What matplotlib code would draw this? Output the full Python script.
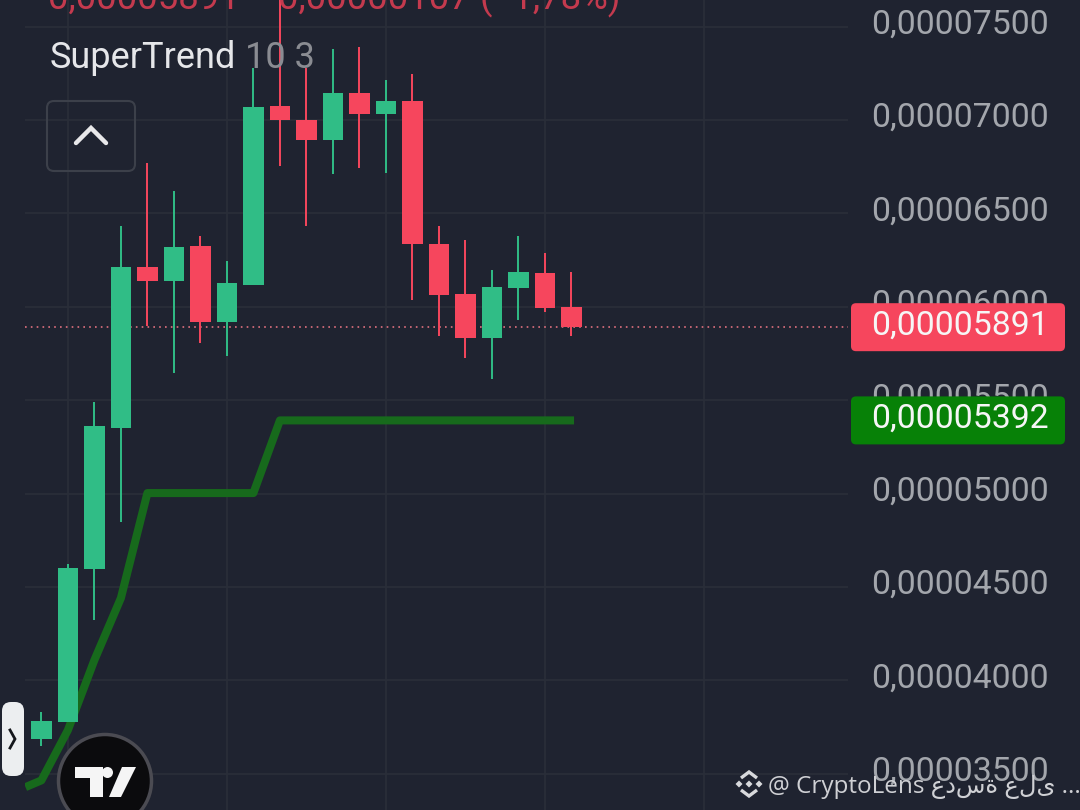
import matplotlib
matplotlib.use("Agg")
import matplotlib.pyplot as plt
from matplotlib.patches import FancyBboxPatch, Circle, Polygon
from matplotlib.transforms import ScaledTranslation

# ---- data (prices in units of 1e-8) ----
opens  = [3686, 3777, 4596, 5351, 6213, 6138, 6326, 5919, 6117, 7075, 7000, 6893, 7144, 7032, 7102, 6336, 6069, 5833, 6100, 6181, 5999]
highs  = [3831, 4623, 5490, 6433, 6770, 6620, 6379, 6245, 7278, 7660, 7278, 7380, 7391, 7214, 7246, 6433, 6358, 6197, 6379, 6288, 6186]
lows   = [3649, 3777, 4323, 4848, 5897, 5646, 5806, 5737, 6117, 6754, 6433, 6711, 6743, 6716, 6036, 5844, 5726, 5613, 5929, 5972, 5844]
closes = [3783, 4602, 5362, 6213, 6138, 6320, 5919, 6127, 7070, 7000, 6893, 7144, 7032, 7102, 6336, 6063, 5833, 6106, 6186, 5993, 5891]
st_index = [-0.6, 0, 1, 2, 3, 4, 5, 6, 7, 8, 9, 20.1]
st_value = [3429, 3465, 3734, 4109, 4441, 5003, 5003, 5003, 5003, 5003, 5392, 5392]
last_price = 5891
st_price = 5392
tick_prices = [3500, 4000, 4500, 5000, 5500, 6000, 6500, 7000, 7500]
tick_labels = ["0,00003500", "0,00004000", "0,00004500", "0,00005000", "0,00005500",
               "0,00006000", "0,00006500", "0,00007000", "0,00007500"]
v_grid = [1, 7, 13, 19, 25]
last_label = "0,00005891"
st_label = "0,00005392"

BG = "#1f2330"
GRID = "#2a2e39"
GREEN = "#30bd86"
RED = "#f6465d"
LABEL = "#a3a6ac"
plt.rcParams["font.family"] = ["Roboto", "DejaVu Sans"]

W, H = 1080, 810
fig = plt.figure(figsize=(10.8, 8.1), dpi=100, facecolor=BG)
L, R = 25, 848
ax = fig.add_axes([L / W, 0, (R - L) / W, 1], facecolor=BG)
STEP = 26.5
X0 = 41.4
ax.set_xlim((L - X0) / STEP, (R - X0) / STEP)
P_TOP, P_PER_PX = 7642.4, 5.353
ax.set_ylim(P_TOP - P_PER_PX * H, P_TOP)
for s in ax.spines.values():
    s.set_visible(False)

ax.yaxis.tick_right()
ax.set_yticks(tick_prices)
ax.set_yticklabels(tick_labels, fontsize=24.3, color=LABEL)
ax.set_xticks(v_grid)
ax.set_xticklabels([])
ax.tick_params(length=0, pad=16.6)
lift = ScaledTranslation(0, 5.5 / 100, fig.dpi_scale_trans)
for t in ax.get_yticklabels():
    t.set_transform(t.get_transform() + lift)
ax.grid(True, color=GRID, lw=1.2)
ax.set_axisbelow(True)

ax.axhline(last_price, color="#e0707f", lw=1.2, ls=(0, (1, 2.5)), zorder=1.5)
ax.plot(st_index, st_value, color="#176a1c", lw=5.8, solid_joinstyle="round",
        solid_capstyle="butt", zorder=2)

for i, (o, h, l, c) in enumerate(zip(opens, highs, lows, closes)):
    col = GREEN if c >= o else RED
    ax.vlines(i, l, h, color=col, lw=1.4, zorder=3)
    ax.bar(i, abs(c - o), bottom=min(o, c), width=0.77, color=col, lw=0, zorder=4)

# ---- interface overlay in pixel coordinates ----
ov = fig.add_axes([0, 0, 1, 1], zorder=5)
ov.set_xlim(0, W)
ov.set_ylim(H, 0)
ov.axis("off")
ov.patch.set_alpha(0)

def price_px(p):
    return (P_TOP - p) / P_PER_PX

ov.text(48, 9, "0,00005891", color="#c43a4e", fontsize=26.3)
ov.text(250, 9, "\u2212", color="#c43a4e", fontsize=26.3)
ov.text(278, 9, "0,00000107", color="#c43a4e", fontsize=26.3)
ov.text(480, 9, "(\u22121,78%)", color="#c43a4e", fontsize=26.3)
ov.text(50, 68, "SuperTrend", color="#e6e7ea", fontsize=26)
ov.text(245, 68, "10 3", color="#8a8c92", fontsize=26)

ov.add_patch(FancyBboxPatch((52, 106), 78, 60, boxstyle="round,pad=5,rounding_size=7",
                            fc="none", ec="#3c404a", lw=1.5))
ov.plot([76, 91, 106], [143, 128, 143], color="#e8e8ea", lw=3.2, solid_capstyle="round",
        solid_joinstyle="miter")

for price, text, col in [(last_price, last_label, RED), (st_price, st_label, "#078107")]:
    yc = price_px(price)
    ov.add_patch(FancyBboxPatch((851, yc - 24), 214, 48, boxstyle="round,pad=0,rounding_size=5",
                                fc=col, ec="none"))
    ov.text(871, yc - 2, text, color="#f6f6f6", fontsize=24.3, va="center", ha="left")

# left handle
ov.add_patch(FancyBboxPatch((2, 702), 22, 74, boxstyle="round,pad=0,rounding_size=9",
                            fc="#eceef0", ec="none"))
ov.plot([10, 15, 10], [730, 739, 748], color="#15171c", lw=2, solid_joinstyle="miter")

# TradingView badge
ov.add_patch(Circle((105, 781), 46.5, fc="#0b0b0d", ec="#4b4b52", lw=2.5))
ov.add_patch(Polygon([(75, 767), (103, 767), (103, 797), (90, 797), (90, 778), (75, 778)], fc="#f5f5f5", ec="none"))
ov.add_patch(Circle((107.5, 772.5), 5.5, fc="#f5f5f5", ec="none"))
ov.add_patch(Polygon([(122, 767), (136, 767), (121, 797), (109, 797)], fc="#f5f5f5", ec="none"))

# watermark: Binance-style mark
cx, cy = 749, 784
LOGO = "#d8d9dc"
for dx, dy, r in [(-10, 0, 3.5), (10, 0, 3.5), (0, 0, 3.5)]:
    ov.add_patch(Polygon([(cx + dx, cy + dy - r), (cx + dx + r, cy + dy), (cx + dx, cy + dy + r),
                          (cx + dx - r, cy + dy)], fc=LOGO, ec="none"))
for sgn in (-1, 1):
    ov.plot([cx - 8, cx, cx + 8], [cy + sgn * 6, cy + sgn * 12, cy + sgn * 6], color=LOGO,
            lw=2.4, solid_joinstyle="miter", solid_capstyle="butt")
ov.text(768, 793, "@ CryptoLens عدسة على ...", color="#cfd0d4", fontsize=17.5,
        family=["Open Sans", "DejaVu Sans"])

fig.savefig("out.png", dpi=100, facecolor=BG)
